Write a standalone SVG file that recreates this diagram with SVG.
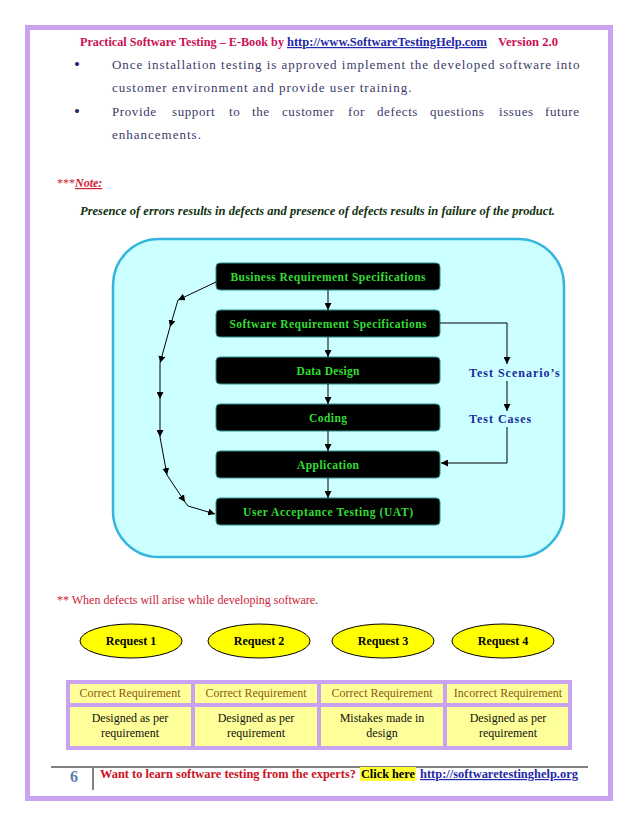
<svg xmlns="http://www.w3.org/2000/svg" width="638" height="826" viewBox="0 0 638 826">
<defs>
<marker id="ah" viewBox="0 0 10 10" refX="10" refY="5" markerWidth="7" markerHeight="7" markerUnits="userSpaceOnUse" orient="auto"><path d="M0,0 L10,5 L0,10 z" fill="#000"/></marker>
<style>
.body{font-family:"Liberation Serif","DejaVu Serif",serif;font-size:13px;fill:#3a3a6a;letter-spacing:0.6px}
.bul{font-family:"Liberation Serif",serif;font-size:17px;fill:#2a2a6a}
.hdr{font-family:"Liberation Serif",serif;font-size:12px;font-weight:bold;fill:#cc1155}
.lnk{fill:#1f2aa8;text-decoration:underline}
.box{fill:#000;stroke:#2f8f8f;stroke-width:1}
.bt{font-family:"Liberation Serif",serif;font-size:11.5px;font-weight:bold;fill:#33dd33;text-anchor:middle}
.ts{font-family:"Liberation Serif",serif;font-size:12px;font-weight:bold;fill:#1a2aa0;letter-spacing:1px}
.cn{fill:none;stroke:#000;stroke-width:1}
.ell{fill:#ffff00;stroke:#000;stroke-width:1}
.et{font-family:"Liberation Serif",serif;font-size:12px;font-weight:bold;fill:#000;text-anchor:middle}
.cell{fill:#ffff99}
.th{font-family:"Liberation Serif",serif;font-size:12px;fill:#8a5a10;text-anchor:middle}
.td{font-family:"Liberation Serif",serif;font-size:12px;fill:#111;text-anchor:middle}
.ft{font-family:"Liberation Serif",serif;font-size:12px;font-weight:bold}
</style>
</defs>
<rect x="0" y="0" width="638" height="826" fill="#fff"/>
<rect x="27.5" y="27.5" width="583" height="771" fill="none" stroke="#c9a2f0" stroke-width="5"/>

<g id="header">
<text class="hdr" x="80" y="46" textLength="204" lengthAdjust="spacingAndGlyphs">Practical Software Testing – E-Book by</text>
<text class="hdr lnk" x="287" y="46" textLength="200" lengthAdjust="spacingAndGlyphs">http://www.SoftwareTestingHelp.com</text>
<text class="hdr" x="498" y="46" textLength="60" lengthAdjust="spacingAndGlyphs">Version 2.0</text>
</g>

<g id="bullets">
<text class="bul" x="74" y="70">•</text>
<text class="body" x="112" y="69" textLength="468" lengthAdjust="spacing">Once installation testing is approved implement the developed software into</text>
<text class="body" x="112" y="92" style="letter-spacing:1px">customer environment and provide user training.</text>
<text class="bul" x="74" y="117">•</text>
<text class="body" y="116"><tspan x="112">Provide</tspan> <tspan x="172">support</tspan> <tspan x="229">to</tspan> <tspan x="252">the</tspan> <tspan x="282">customer</tspan> <tspan x="348">for</tspan> <tspan x="377">defects</tspan> <tspan x="430">questions</tspan> <tspan x="499">issues</tspan> <tspan x="545">future</tspan></text>
<text class="body" x="112" y="139" style="letter-spacing:1px">enhancements.</text>
</g>

<g id="note">
<text x="57" y="187" style="font-family:'Liberation Serif',serif;font-size:12px;fill:#cc2233">***<tspan style="font-weight:bold;font-style:italic;text-decoration:underline">Note:</tspan></text>
<text x="80" y="215" textLength="475" lengthAdjust="spacingAndGlyphs" style="font-family:'Liberation Serif',serif;font-size:12px;font-weight:bold;font-style:italic;fill:#113311">Presence of errors results in defects and presence of defects results in failure of the product.</text>
</g>

<g id="container">
<rect x="113" y="239" width="451" height="318" rx="46" ry="46" fill="#ccffff" stroke="#33b5dd" stroke-width="2.5"/>
</g>

<g id="n1"><rect class="box" x="216" y="263" width="224" height="27" rx="4"/><text class="bt" x="328" y="281" textLength="195" lengthAdjust="spacing">Business Requirement Specifications</text></g>
<g id="n2"><rect class="box" x="216" y="310" width="224" height="27" rx="4"/><text class="bt" x="328" y="328" textLength="197" lengthAdjust="spacing">Software Requirement Specifications</text></g>
<g id="n3"><rect class="box" x="216" y="357" width="224" height="27" rx="4"/><text class="bt" x="328" y="375" textLength="63" lengthAdjust="spacing">Data Design</text></g>
<g id="n4"><rect class="box" x="216" y="404" width="224" height="27" rx="4"/><text class="bt" x="328" y="422" textLength="38" lengthAdjust="spacing">Coding</text></g>
<g id="n5"><rect class="box" x="216" y="451" width="224" height="27" rx="4"/><text class="bt" x="328" y="469" textLength="62" lengthAdjust="spacing">Application</text></g>
<g id="n6"><rect class="box" x="216" y="498" width="224" height="27" rx="4"/><text class="bt" x="328" y="516" textLength="170" lengthAdjust="spacing">User Acceptance Testing (UAT)</text></g>

<g id="ts1"><text class="ts" x="469" y="377">Test Scenario’s</text></g>
<g id="ts2"><text class="ts" x="469" y="423">Test Cases</text></g>

<g id="connectors">
<line class="cn" x1="328" y1="290" x2="328" y2="310" marker-end="url(#ah)"/>
<line class="cn" x1="328" y1="337" x2="328" y2="357" marker-end="url(#ah)"/>
<line class="cn" x1="328" y1="384" x2="328" y2="404" marker-end="url(#ah)"/>
<line class="cn" x1="328" y1="431" x2="328" y2="451" marker-end="url(#ah)"/>
<line class="cn" x1="328" y1="478" x2="328" y2="498" marker-end="url(#ah)"/>
<line class="cn" x1="216" y1="282" x2="178" y2="300" marker-end="url(#ah)"/>
<line class="cn" x1="178" y1="300" x2="170" y2="327" marker-end="url(#ah)"/>
<line class="cn" x1="170" y1="327" x2="160" y2="363" marker-end="url(#ah)"/>
<line class="cn" x1="160" y1="363" x2="160" y2="399" marker-end="url(#ah)"/>
<line class="cn" x1="160" y1="399" x2="160" y2="437" marker-end="url(#ah)"/>
<line class="cn" x1="160" y1="437" x2="167" y2="475" marker-end="url(#ah)"/>
<line class="cn" x1="167" y1="475" x2="185" y2="502" marker-end="url(#ah)"/>
<polyline class="cn" points="185,502 188,506 215,514" marker-end="url(#ah)"/>
<polyline class="cn" points="440,323 507,323 507,364" marker-end="url(#ah)"/>
<line class="cn" x1="507" y1="381" x2="507" y2="411" marker-end="url(#ah)"/>
<polyline class="cn" points="507,427 507,463 441,463" marker-end="url(#ah)"/>
</g>

<text x="57" y="604" style="font-family:'Liberation Serif',serif;font-size:12px;fill:#cc2233">** When defects will arise while developing software<tspan style="fill:#333">.</tspan></text>

<g id="r1"><ellipse class="ell" cx="131" cy="641" rx="51" ry="17"/><text class="et" x="131" y="645">Request 1</text></g>
<g id="r2"><ellipse class="ell" cx="259" cy="641" rx="51" ry="17"/><text class="et" x="259" y="645">Request 2</text></g>
<g id="r3"><ellipse class="ell" cx="383" cy="641" rx="51" ry="17"/><text class="et" x="383" y="645">Request 3</text></g>
<g id="r4"><ellipse class="ell" cx="503" cy="641" rx="51" ry="17"/><text class="et" x="503" y="645">Request 4</text></g>

<g id="table">
<rect x="66" y="680" width="506" height="70" fill="#c9a2f0"/>
<rect class="cell" x="70" y="684" width="121" height="19"/>
<rect class="cell" x="195" y="684" width="122" height="19"/>
<rect class="cell" x="321" y="684" width="122" height="19"/>
<rect class="cell" x="447" y="684" width="121" height="19"/>
<rect class="cell" x="70" y="707" width="121" height="39"/>
<rect class="cell" x="195" y="707" width="122" height="39"/>
<rect class="cell" x="321" y="707" width="122" height="39"/>
<rect class="cell" x="447" y="707" width="121" height="39"/>
<text class="th" x="130" y="697">Correct Requirement</text>
<text class="th" x="256" y="697">Correct Requirement</text>
<text class="th" x="382" y="697">Correct Requirement</text>
<text class="th" x="508" y="697">Incorrect Requirement</text>
<text class="td" x="130" y="722">Designed as per</text>
<text class="td" x="130" y="737">requirement</text>
<text class="td" x="256" y="722">Designed as per</text>
<text class="td" x="256" y="737">requirement</text>
<text class="td" x="382" y="722">Mistakes made in</text>
<text class="td" x="382" y="737">design</text>
<text class="td" x="508" y="722">Designed as per</text>
<text class="td" x="508" y="737">requirement</text>
</g>

<g id="footer">
<line x1="51" y1="767" x2="588" y2="767" stroke="#808080" stroke-width="2"/>
<line x1="93" y1="767" x2="93" y2="790" stroke="#808080" stroke-width="2"/>
<text x="70" y="782" style="font-family:'Liberation Serif',serif;font-size:16px;font-weight:bold;fill:#5b80b0">6</text>
<rect x="360" y="767" width="56" height="14" fill="#ffff33"/>
<text class="ft" x="100" y="778" style="fill:#cc1122" textLength="256" lengthAdjust="spacingAndGlyphs">Want to learn software testing from the experts?</text>
<text class="ft" x="361" y="778" style="fill:#000" textLength="54" lengthAdjust="spacingAndGlyphs">Click here</text>
<text class="ft lnk" x="420" y="778" textLength="158" lengthAdjust="spacingAndGlyphs">http://softwaretestinghelp.org</text>
</g>
</svg>
